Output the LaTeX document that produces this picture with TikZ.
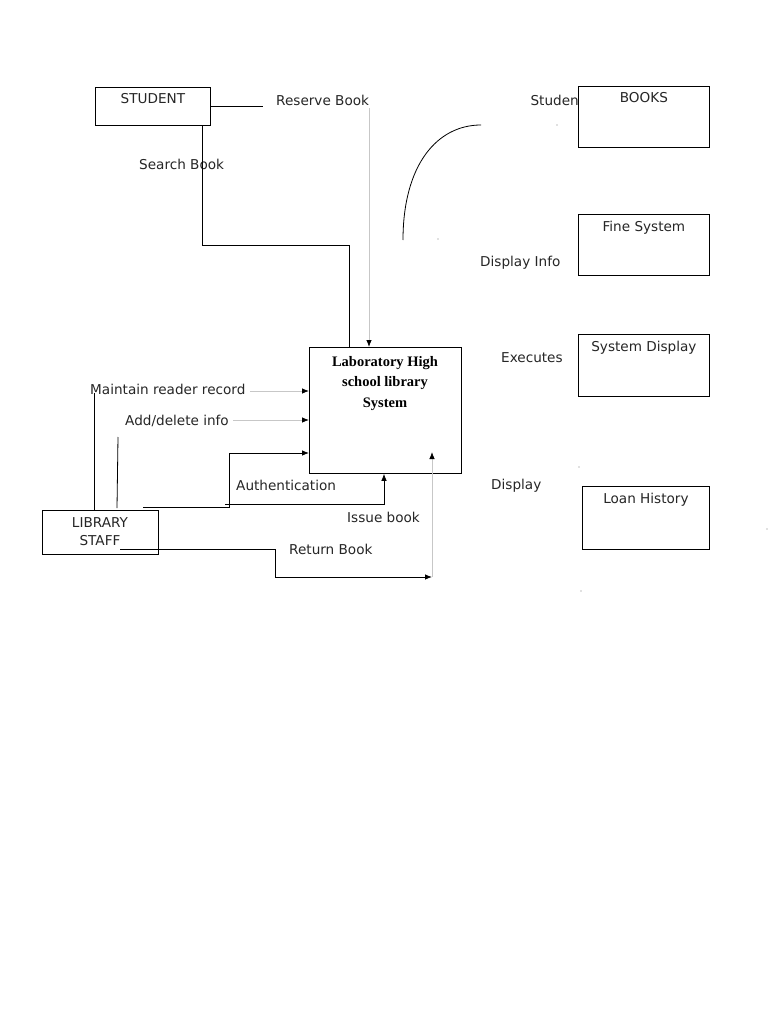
\documentclass[tikz,border=0pt]{standalone}
\usepackage{fontspec}
\setmainfont{DejaVu Sans}
\newfontfamily\serifb{Liberation Serif}
\usetikzlibrary{arrows.meta}
\begin{document}
\begin{tikzpicture}[x=1pt,y=-1pt,
  box/.style={draw, line width=0.8pt, inner sep=0pt, anchor=north west, fill=white},
  lbl/.style={font=\fontsize{13.6}{15}\selectfont, inner sep=0pt, anchor=base west, text=black!85},
  btxt/.style={font=\fontsize{13.6}{15}\selectfont, inner sep=0pt, anchor=base, text=black!85},
  ln/.style={line width=0.8pt, draw=black},
  gl/.style={line width=0.8pt, draw=black!22},
  arr/.style={-{Latex[length=7pt,width=5.5pt,color=black]}},
  dotm/.style={fill=black!50, draw=none}
]
\useasboundingbox[fill=white] (0,0) rectangle (768,1024);

% label drawn first (Studen is clipped by BOOKS)
\node[lbl, anchor=base east] (lstu) at (579,106) {Studen};

% boxes
\node[box, minimum width=115pt, minimum height=38pt] (stu) at (95,87) {};
\node[btxt] (stut) at ([yshift=-17pt]stu.north) {STUDENT};
\node[box, minimum width=131pt, minimum height=61pt] (books) at (578,86) {};
\node[btxt] (bookst) at ([yshift=-17pt]books.north) {BOOKS};
\node[box, minimum width=131pt, minimum height=61pt] (fine) at (578,214) {};
\node[btxt] (finet) at ([yshift=-17.5pt]fine.north) {Fine System};
\node[box, minimum width=131pt, minimum height=62pt] (sysd) at (578,334) {};
\node[btxt] (sysdt) at ([yshift=-17.5pt]sysd.north) {System Display};
\node[box, minimum width=127pt, minimum height=63pt] (loan) at (582,486) {};
\node[btxt] (loant) at ([yshift=-17.5pt]loan.north) {Loan History};
\node[box, minimum width=152pt, minimum height=126pt] (main) at (309,347) {};
\node[font=\serifb\bfseries\fontsize{14.5}{20.5}\selectfont, align=center, inner sep=0pt, anchor=north] (maint) at (385,356) {Laboratory High\\school library\\System};
\node[box, minimum width=116pt, minimum height=44pt] (staff) at (42,510) {};
\node[btxt, align=center, font=\fontsize{13.6}{18}\selectfont, anchor=north] (stafft) at (100,517) {LIBRARY\\STAFF};

% labels
\node[lbl] (lres) at (276,106) {Reserve Book};
\node[lbl] (lsea) at (139,170) {Search Book};
\node[lbl] (ldis) at (480,266) {Display Info};
\node[lbl] (lexe) at (501,362) {Executes};
\node[lbl] (ldsp) at (491,489) {Display};
\node[lbl] (lmai) at (90,394) {Maintain reader record};
\node[lbl] (ladd) at (125,425) {Add/delete info};
\node[lbl] (laut) at (236,490) {Authentication};
\node[lbl] (liss) at (347,522) {Issue book};
\node[lbl] (lret) at (289,554) {Return Book};

% coordinates
\coordinate (rb1) at (263,106);
\coordinate (rb2) at (369,108);
\coordinate (sb) at (349,245);
\coordinate (arcA) at (403,240);
\coordinate (arcB) at (481,125);
\coordinate (mr0) at (94,510);
\coordinate (mr1) at (94,393);
\coordinate (mr) at (250,391);
\coordinate (ad0) at (117,508);
\coordinate (ad1) at (118,437);
\coordinate (ad) at (233,420);
\coordinate (st1) at (143,507);
\coordinate (au) at (229,453);
\coordinate (ib) at (225,504);
\coordinate (ib2) at (384,504);
\coordinate (rt) at (120,549);
\coordinate (rt2) at (275,549);
\coordinate (rt3) at (432,577);
\coordinate (up) at (432,452);

% student connectors
\draw[ln] (stu.east |- rb1) -- (rb1);
\draw[gl, arr] (rb2) -- (rb2 |- main.north);
\draw[ln] ([xshift=-8pt]stu.south east) |- (sb) -- (sb |- main.north);

% arc
\draw[ln] (arcA) .. controls (403,165) and (437,125) .. (arcB);

% library staff connectors
\draw[ln] (mr0) -- (mr1);
\draw[gl, arr] (mr) -- (mr -| main.west);
\draw[ln] (ad0) -- (ad1);
\draw[gl, arr] (ad) -- (ad -| main.west);
\draw[ln, arr] (st1) -| (au) -- (au -| main.west);
\draw[ln, arr] (ib) -- (ib2) -- (ib2 |- main.south);
\draw[ln, arr] (rt) -- (rt2) |- (rt3);
\draw[gl, arr] (rt3) -- (up);

% stray dots
\fill[dotm] (557,125) circle (0.6);
\fill[dotm] (438,239) circle (0.6);
\fill[dotm] (579,467) circle (0.6);
\fill[dotm] (767,529) circle (0.6);
\fill[dotm] (581,591) circle (0.6);
\end{tikzpicture}
\end{document}
